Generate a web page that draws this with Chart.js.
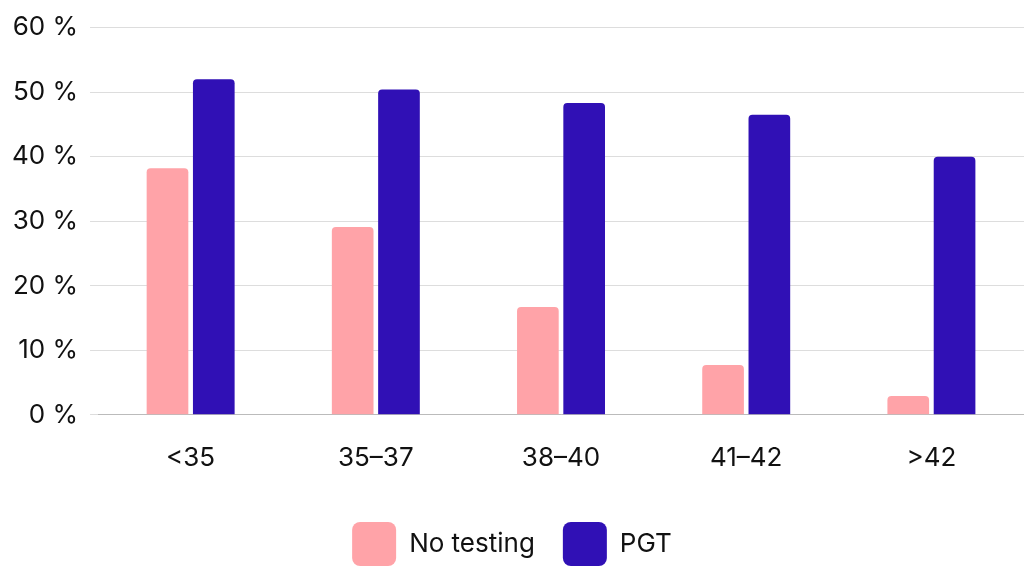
<!DOCTYPE html>
<html><head><meta charset="utf-8">
<script src="https://cdn.jsdelivr.net/npm/chart.js@4"></script>
<style>html,body{margin:0;padding:0;background:#fff}#w{width:1024px;height:576px}</style>
</head><body><div id="w"><canvas id="c"></canvas></div>
<script>
const categories = ["<35","35–37","38–40","41–42",">42"];
const noTesting = [38.2,29.1,16.7,7.7,2.9];
const pgt = [52.0,50.4,48.3,46.5,40.0];
const seriesNames = ["No testing","PGT"];
new Chart(document.getElementById('c'),{
type:'bar',
data:{labels:categories,datasets:[
{label:seriesNames[0],data:noTesting,backgroundColor:'#FFA3A8',borderRadius:{topLeft:4,topRight:4},borderSkipped:'bottom',categoryPercentage:0.5,barPercentage:0.9},
{label:seriesNames[1],data:pgt,backgroundColor:'#3010B5',borderRadius:{topLeft:4,topRight:4},borderSkipped:'bottom',categoryPercentage:0.5,barPercentage:0.9}]},
options:{responsive:true,maintainAspectRatio:false,animation:false,
layout:{padding:{top:12,right:0,left:0,bottom:0}},
plugins:{tooltip:{enabled:false},legend:{position:'bottom',labels:{boxWidth:44,boxHeight:44,useBorderRadius:true,borderRadius:8,padding:28,color:'#111',font:{family:'Inter',size:26}}}},
scales:{
x:{grid:{display:false},border:{color:'#bbb'},ticks:{color:'#111',padding:20,font:{family:'Inter',size:26}}},
y:{min:0,max:60,ticks:{stepSize:10,color:'#111',padding:12,font:{family:'Inter',size:26},callback:v=>v+' %'},grid:{color:'#ddd'},border:{display:false}}}}
});
</script></body></html>
